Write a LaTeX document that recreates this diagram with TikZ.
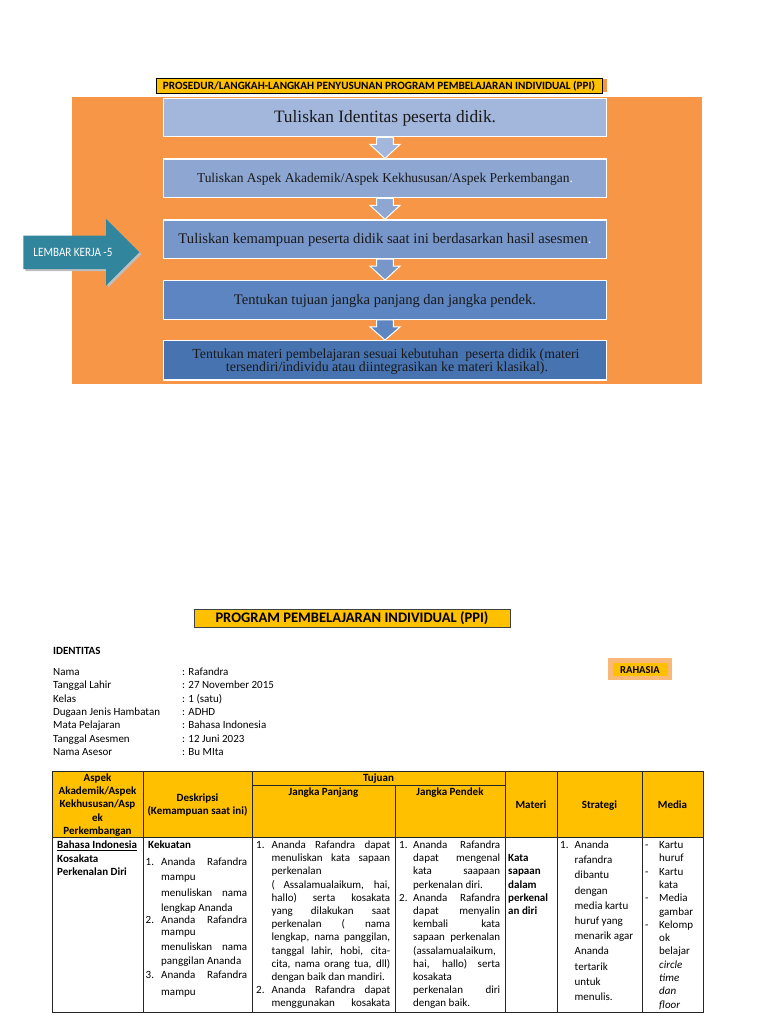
\documentclass[tikz,border=0pt]{standalone}
\usepackage{fontspec}
\setmainfont{Carlito}
\newfontfamily\serf{Liberation Serif}
\usetikzlibrary{calc}
\definecolor{orbg}{HTML}{F79646}
\definecolor{ylw}{HTML}{FFC000}
\definecolor{bA}{HTML}{A3B6DB}
\definecolor{bB}{HTML}{8DA6D2}
\definecolor{bC}{HTML}{7796CA}
\definecolor{bD}{HTML}{5C85C1}
\definecolor{bE}{HTML}{4873B1}
\definecolor{tealA}{HTML}{31859C}
\definecolor{tline}{HTML}{262626}
\definecolor{rahO}{HTML}{F8B878}
\newcommand\tf{\fontsize{11}{13}\selectfont}
\tikzset{
  tx/.style={inner sep=0pt, anchor=base west, font=\tf},
  tc/.style={inner sep=0pt, anchor=base, font=\tf\bfseries},
  fbox/.style={draw=white, line width=1.4pt, minimum width=443, minimum height=38.5, inner sep=0pt},
  ftx/.style={inner sep=0pt, anchor=base, text=black!90, font=\serf\fontsize{16}{18}\selectfont},
  grid/.style={draw=tline, line width=0.9pt},
  darr/.style={draw=white, line width=1pt},
}
\newcommand\Lt[3]{\node[tx] at (#1,#2+3.5) {#3};}
\newcommand\Jt[4]{\node[tx] at (#1,#2+3.5) {\makebox[#3pt][s]{#4}};}
\newcommand\Ct[3]{\node[tc] at (#1,#2+3.5) {#3};}
\newcommand\downarr[3]{%
  \filldraw[darr, fill=#3] ($(#1.south)+(-8.3,0)$) -- ($(#1.south)+(8.3,0)$) -- ($(#1.south)+(8.3,7)$) -- ($(#1.south)+(15,7)$) -- (#2.north) -- ($(#1.south)+(-15,7)$) -- ($(#1.south)+(-8.3,7)$) -- cycle;}
\begin{document}
\begin{tikzpicture}[x=1pt,y=-1pt]
\useasboundingbox (0,0) rectangle (768,1024);
\fill[white] (0,0) rectangle (768,1024);

% ---------- top flowchart ----------
\fill[orbg] (72,97) rectangle (702,383.5);
\node[draw=black, line width=0.8pt, fill=ylw, minimum width=446, minimum height=15, inner sep=0pt] (tbar) at (379,85.5) {};
\fill[orbg] (602.5,79) rectangle (606.5,92);
\node[inner sep=0pt, anchor=base, font=\bfseries\fontsize{10}{12}\selectfont] (ttl) at (379,89.2) {\resizebox{432pt}{!}{PROSEDUR/LANGKAH-LANGKAH PENYUSUNAN PROGRAM PEMBELAJARAN INDIVIDUAL (PPI)}};

\node[fbox, fill=bA] (b1) at (385,117.5) {};
\node[fbox, fill=bB] (b2) at (385,178.4) {};
\node[fbox, fill=bC] (b3) at (385,239.2) {};
\node[fbox, fill=bD] (b4) at (385,300) {};
\node[fbox, fill=bE, minimum height=39.3] (b5) at (385,360.4) {};
\downarr{b1}{b2}{bA}
\downarr{b2}{b3}{bB}
\downarr{b3}{b4}{bC}
\downarr{b4}{b5}{bD}

\node[ftx] (t1) at (385,122.5) {\resizebox{222pt}{!}{Tuliskan Identitas peserta didik.}};
\node[ftx] (t2) at (385,182.6) {\resizebox{376pt}{!}{Tuliskan Aspek Akademik/Aspek Kekhususan/Aspek Perkembangan\textcolor{white}{.}}};
\node[ftx] (t3) at (385,243.2) {\resizebox{413pt}{!}{Tuliskan kemampuan peserta didik saat ini berdasarkan hasil asesmen\textcolor{white}{.}}};
\node[ftx] (t4) at (385,304.6) {\resizebox{302pt}{!}{Tentukan tujuan jangka panjang dan jangka pendek.}};
\node[ftx] (t5a) at (386,358.3) {\resizebox{387pt}{!}{Tentukan materi pembelajaran sesuai kebutuhan\ \ peserta didik (materi}};
\node[ftx] (t5b) at (387,371.6) {\resizebox{322pt}{!}{tersendiri/individu atau diintegrasikan ke materi klasikal).}};

\fill[black!25] (25.3,237.7) -- (108,237.7) -- (108,221) -- (141.3,254.3) -- (108,287.5) -- (108,271) -- (25.3,271) -- cycle;
\fill[tealA] (23.3,235.7) -- (106,235.7) -- (106,219) -- (139.3,252.3) -- (106,285.5) -- (106,269) -- (23.3,269) -- cycle;
\node[inner sep=0pt, anchor=base, text=white, font=\fontsize{11}{13}\selectfont] (lk) at (73,256.2) {\scalebox{1}[1.15]{\resizebox{79pt}{!}{LEMBAR KERJA -5}}};

% ---------- PPI ----------
\node[draw=black!75, line width=0.9pt, fill=ylw, minimum width=316.7, minimum height=18.3, inner sep=0pt] (ppi) at (352.3,618.2) {};
\node[inner sep=0pt, anchor=base, font=\bfseries\fontsize{13}{15}\selectfont] (ppit) at (352,622.8) {\resizebox{273pt}{!}{PROGRAM PEMBELAJARAN INDIVIDUAL (PPI)}};

\fill[rahO] (608.3,658.3) rectangle (671.7,680);
\fill[ylw] (612.5,662.5) rectangle (667.5,676);
\node[inner sep=0pt, anchor=base, font=\bfseries\fontsize{10.6}{12}\selectfont] (rh) at (640,673) {RAHASIA};

\Lt{53}{651}{\bfseries IDENTITAS}
\Lt{53}{672}{Nama}              \Lt{182}{672}{: Rafandra}
\Lt{53}{685.3}{Tanggal Lahir}   \Lt{182}{685.3}{: 27 November 2015}
\Lt{53}{698.6}{Kelas}           \Lt{182}{698.6}{: 1 (satu)}
\Lt{53}{712}{Dugaan Jenis Hambatan} \Lt{182}{712}{: ADHD}
\Lt{53}{725.3}{Mata Pelajaran}  \Lt{182}{725.3}{: Bahasa Indonesia}
\Lt{53}{738.6}{Tanggal Asesmen} \Lt{182}{738.6}{: 12 Juni 2023}
\Lt{53}{752}{Nama Asesor}       \Lt{182}{752}{: Bu MIta}

% ---------- table ----------
\fill[ylw] (52,771) rectangle (703,837);
\draw[grid] (52,771) rectangle (703,1012.5);
\draw[grid] (52,837) -- (703,837);
\draw[grid] (252,785) -- (505,785);
\draw[grid] (143,771) -- (143,1012.5);
\draw[grid] (252,771) -- (252,1012.5);
\draw[grid] (395,785) -- (395,1012.5);
\draw[grid] (505,771) -- (505,1012.5);
\draw[grid] (557,771) -- (557,1012.5);
\draw[grid] (642,771) -- (642,1012.5);

\Ct{97.5}{777.7}{Aspek}
\Ct{97.5}{791}{Akademik/Aspek}
\Ct{97.5}{804.3}{Kekhususan/Asp}
\Ct{97.5}{817.7}{ek}
\Ct{97.5}{831}{Perkembangan}
\Ct{197.5}{798.3}{Deskripsi}
\Ct{197.5}{811}{(Kemampuan saat ini)}
\Ct{378.5}{778.3}{Tujuan}
\Ct{323.5}{791.5}{Jangka Panjang}
\Ct{450}{791.5}{Jangka Pendek}
\Ct{531}{805}{Materi}
\Ct{599.5}{805}{Strategi}
\Ct{672.5}{805}{Media}

% col 1
\Lt{57}{845.3}{\bfseries\underline{Bahasa Indonesia}}
\Lt{57}{858.6}{\bfseries Kosakata}
\Lt{57}{872}{\bfseries Perkenalan Diri}

% col 2
\Lt{148}{845.3}{\bfseries Kekuatan}
\Lt{145.5}{861.7}{1.} \Jt{161}{861.7}{86}{Ananda Rafandra}
\Lt{161}{876.7}{mampu}
\Jt{161}{893.3}{86}{menuliskan nama}
\Lt{161}{907.7}{lengkap Ananda}
\Lt{145.5}{920}{2.} \Jt{161}{920}{86}{Ananda Rafandra}
\Lt{161}{932.3}{mampu}
\Jt{161}{947.3}{86}{menuliskan nama}
\Lt{161}{961}{panggilan Ananda}
\Lt{145.5}{975}{3.} \Jt{161}{975}{86}{Ananda Rafandra}
\Lt{161}{992.3}{mampu}

% col 3
\Lt{256}{845}{1.} \Jt{271.5}{845}{118.5}{Ananda Rafandra dapat}
\Jt{271.5}{858.2}{118.5}{menuliskan kata sapaan}
\Lt{271.5}{871.4}{perkenalan}
\Jt{271.5}{884.6}{118.5}{( Assalamualaikum, hai,}
\Jt{271.5}{897.8}{118.5}{hallo) serta kosakata}
\Jt{271.5}{911}{118.5}{yang dilakukan saat}
\Jt{271.5}{924.2}{118.5}{perkenalan ( nama}
\Jt{271.5}{937.4}{118.5}{lengkap, nama panggilan,}
\Jt{271.5}{950.6}{118.5}{tanggal lahir, hobi, cita-}
\Jt{271.5}{963.8}{118.5}{cita, nama orang tua, dll)}
\Lt{271.5}{977}{dengan baik dan mandiri.}
\Lt{256}{990.2}{2.} \Jt{271.5}{990.2}{118.5}{Ananda Rafandra dapat}
\Jt{271.5}{1003.4}{118.5}{menggunakan kosakata}

% col 4
\Lt{399}{845}{1.} \Jt{413}{845}{87}{Ananda Rafandra}
\Jt{413}{858.2}{87}{dapat mengenal}
\Jt{413}{871.4}{87}{kata saapaan}
\Lt{413}{884.6}{perkenalan diri.}
\Lt{399}{897.8}{2.} \Jt{413}{897.8}{87}{Ananda Rafandra}
\Jt{413}{911}{87}{dapat menyalin}
\Jt{413}{924.2}{87}{kembali kata}
\Jt{413}{937.4}{87}{sapaan perkenalan}
\Lt{413}{950.6}{(assalamualaikum,}
\Jt{413}{963.8}{87}{hai, hallo) serta}
\Lt{413}{977}{kosakata}
\Jt{413}{990.2}{87}{perkenalan diri}
\Lt{413}{1003.4}{dengan baik.}

% col 5
\Lt{508}{858.2}{\bfseries Kata}
\Lt{508}{871.4}{\bfseries sapaan}
\Lt{508}{884.6}{\bfseries dalam}
\Lt{508}{897.8}{\bfseries perkenal}
\Lt{508}{911}{\bfseries an diri}

% col 6
\Lt{560}{845}{1.} \Lt{574.5}{845}{Ananda}
\Lt{574.5}{860.2}{rafandra}
\Lt{574.5}{875.4}{dibantu}
\Lt{574.5}{890.6}{dengan}
\Lt{574.5}{905.8}{media kartu}
\Lt{574.5}{921}{huruf yang}
\Lt{574.5}{936.2}{menarik agar}
\Lt{574.5}{951.4}{Ananda}
\Lt{574.5}{966.6}{tertarik}
\Lt{574.5}{981.8}{untuk}
\Lt{574.5}{997}{menulis.}

% col 7
\Lt{645}{845}{-} \Lt{659}{845}{Kartu}
\Lt{659}{858.3}{huruf}
\Lt{645}{871.6}{-} \Lt{659}{871.6}{Kartu}
\Lt{659}{884.9}{kata}
\Lt{645}{898.2}{-} \Lt{659}{898.2}{Media}
\Lt{659}{911.5}{gambar}
\Lt{645}{924.8}{-} \Lt{659}{924.8}{Kelomp}
\Lt{659}{938.1}{ok}
\Lt{659}{951.4}{belajar}
\Lt{659}{964.7}{\itshape circle}
\Lt{659}{978}{\itshape time}
\Lt{659}{991.3}{\itshape dan}
\Lt{659}{1004.6}{\itshape floor}
\end{tikzpicture}
\end{document}
